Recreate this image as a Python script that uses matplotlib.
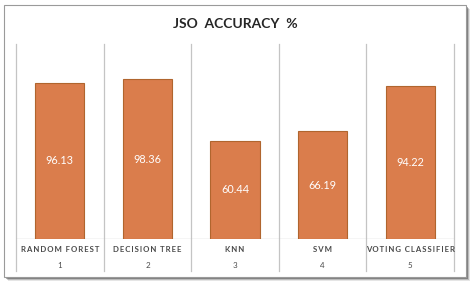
import matplotlib.pyplot as plt
from matplotlib.patches import Rectangle
from matplotlib.transforms import blended_transform_factory

MODELS = ['RANDOM FOREST', 'DECISION TREE', 'KNN', 'SVM', 'VOTING CLASSIFIER']
POSITIONS = [1, 2, 3, 4, 5]
ACCURACY = [96.13, 98.36, 60.44, 66.19, 94.22]

BAR_COLOR = '#DA7D4C'
EDGE_COLOR = '#B0652E'

plt.rcParams['font.family'] = ['Lato', 'DejaVu Sans']

fig = plt.figure(figsize=(4.74, 2.86), dpi=100)

# outer frame with a soft shadow (right / bottom)
W, H = 474.0, 286.0
for i, a in enumerate([0.10, 0.18, 0.30, 0.45]):
    off = 4 - i
    fig.patches.append(Rectangle(((4 + off) / W, (286 - 277 - off) / H),
                                 462 / W, 272 / H, transform=fig.transFigure,
                                 facecolor='black', edgecolor='none', alpha=a, zorder=0))
fig.patches.append(Rectangle((4 / W, (286 - 277) / H), 462 / W, 272 / H,
                             transform=fig.transFigure, facecolor='white',
                             edgecolor='#9a9a9a', linewidth=0.8, zorder=1))

ax = fig.add_axes([16 / W, (286 - 239) / H, 438 / W, 195 / H])
ax.set_zorder(2)
ax.patch.set_alpha(0)

bars = ax.bar(POSITIONS, ACCURACY, width=0.56, color=BAR_COLOR,
              edgecolor=EDGE_COLOR, linewidth=0.8, zorder=3)
for b, v in zip(bars, ACCURACY):
    ax.text(b.get_x() + b.get_width() / 2, v / 2, f'{v:.2f}', ha='center',
            va='center', color='white', fontsize=7.8, zorder=4)

ax.set_xlim(0.5, 5.5)
ax.set_ylim(0, 120)
ax.set_xticks([])
ax.set_yticks([])
for s in ax.spines.values():
    s.set_visible(False)

# category table below the plot
ax.axhline(0, color='#b5b5b5', linewidth=0.9, zorder=2)
for x in [0.5, 1.5, 2.5, 3.5, 4.5, 5.5]:
    ax.axvline(x, ymin=-0.165, ymax=1.0, color='#c4c4c4', linewidth=0.9,
               clip_on=False, zorder=1)


def spaced(s):
    # wide letter spacing like the original labels
    return '\u2009'.join(s).replace('\u2009 \u2009', '  ')


trans = blended_transform_factory(ax.transData, ax.transAxes)
for p, name in zip(POSITIONS, MODELS):
    ax.text(p, -11 / 195, spaced(name), transform=trans,
            ha='center', va='center', fontsize=5.6, fontweight='bold', color='#4a4a4a')
    ax.text(p, -27 / 195, str(p), transform=trans, ha='center', va='center',
            fontsize=5.8, color='#4a4a4a')

fig.text(235 / W, 1 - 23.5 / H, 'JSO  ACCURACY  %', ha='center', va='center',
         fontsize=10, fontweight='bold', color='#262626')

fig.savefig('out.png', dpi=100)
